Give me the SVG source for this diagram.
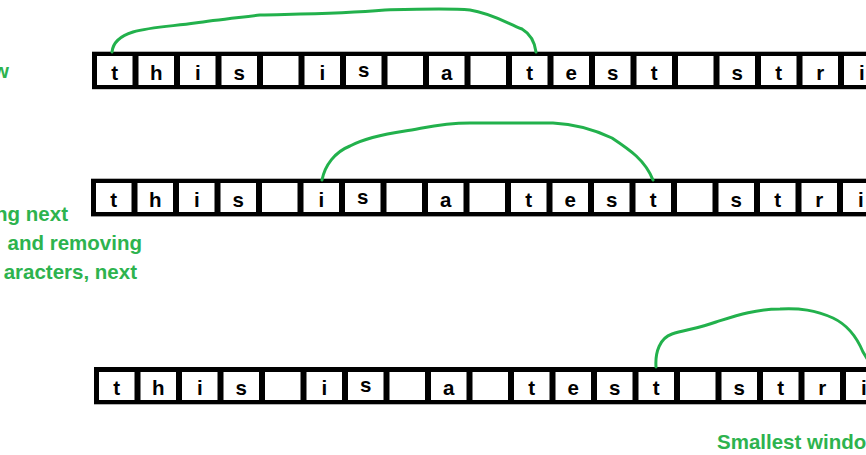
<svg xmlns="http://www.w3.org/2000/svg" width="866" height="455" viewBox="0 0 866 455">
<style>
.bar{fill:#000}
.cell{fill:#fff}
.ch{font-family:"Liberation Sans",Arial,sans-serif;font-size:20.5px;font-weight:bold;fill:#000;text-anchor:middle}
.note{font-family:"Liberation Sans",Arial,sans-serif;font-size:20.5px;font-weight:bold;fill:#2db34e}
.arc{fill:none;stroke:#22b14c;stroke-width:3;stroke-linecap:round;stroke-linejoin:round}
</style>
<rect width="866" height="455" fill="#fff"/>

<g id="row1" transform="translate(97,56)">
<rect class="bar" x="-5" y="-4.3" width="800" height="37.5"/>
<rect class="cell" x="0" y="0" width="35.5" height="29"/>
<rect class="cell" x="41.5" y="0" width="35.5" height="29"/>
<rect class="cell" x="83" y="0" width="35.5" height="29"/>
<rect class="cell" x="124.5" y="0" width="35.5" height="29"/>
<rect class="cell" x="166" y="0" width="35.5" height="29"/>
<rect class="cell" x="207.5" y="0" width="35.5" height="29"/>
<rect class="cell" x="249" y="0" width="35.5" height="29"/>
<rect class="cell" x="290.5" y="0" width="35.5" height="29"/>
<rect class="cell" x="332" y="0" width="35.5" height="29"/>
<rect class="cell" x="373.5" y="0" width="35.5" height="29"/>
<rect class="cell" x="415" y="0" width="35.5" height="29"/>
<rect class="cell" x="456.5" y="0" width="35.5" height="29"/>
<rect class="cell" x="498" y="0" width="35.5" height="29"/>
<rect class="cell" x="539.5" y="0" width="35.5" height="29"/>
<rect class="cell" x="581" y="0" width="35.5" height="29"/>
<rect class="cell" x="622.5" y="0" width="35.5" height="29"/>
<rect class="cell" x="664" y="0" width="35.5" height="29"/>
<rect class="cell" x="705.5" y="0" width="35.5" height="29"/>
<rect class="cell" x="747" y="0" width="35.5" height="29"/>
<text class="ch" x="17.75" y="24">t</text>
<text class="ch" x="59.25" y="24">h</text>
<text class="ch" x="100.75" y="24">i</text>
<text class="ch" x="142.25" y="24">s</text>
<text class="ch" x="225.25" y="24">i</text>
<text class="ch" x="266.75" y="21">s</text>
<text class="ch" x="349.75" y="24">a</text>
<text class="ch" x="432.75" y="24">t</text>
<text class="ch" x="474.25" y="24">e</text>
<text class="ch" x="515.75" y="24">s</text>
<text class="ch" x="557.25" y="24">t</text>
<text class="ch" x="640.25" y="24">s</text>
<text class="ch" x="681.75" y="24">t</text>
<text class="ch" x="723.25" y="24">r</text>
<text class="ch" x="764.75" y="24">i</text>
</g>

<g id="row2" transform="translate(96,183)">
<rect class="bar" x="-5" y="-4.3" width="800" height="37.7"/>
<rect class="cell" x="0" y="0" width="35.5" height="29"/>
<rect class="cell" x="41.5" y="0" width="35.5" height="29"/>
<rect class="cell" x="83" y="0" width="35.5" height="29"/>
<rect class="cell" x="124.5" y="0" width="35.5" height="29"/>
<rect class="cell" x="166" y="0" width="35.5" height="29"/>
<rect class="cell" x="207.5" y="0" width="35.5" height="29"/>
<rect class="cell" x="249" y="0" width="35.5" height="29"/>
<rect class="cell" x="290.5" y="0" width="35.5" height="29"/>
<rect class="cell" x="332" y="0" width="35.5" height="29"/>
<rect class="cell" x="373.5" y="0" width="35.5" height="29"/>
<rect class="cell" x="415" y="0" width="35.5" height="29"/>
<rect class="cell" x="456.5" y="0" width="35.5" height="29"/>
<rect class="cell" x="498" y="0" width="35.5" height="29"/>
<rect class="cell" x="539.5" y="0" width="35.5" height="29"/>
<rect class="cell" x="581" y="0" width="35.5" height="29"/>
<rect class="cell" x="622.5" y="0" width="35.5" height="29"/>
<rect class="cell" x="664" y="0" width="35.5" height="29"/>
<rect class="cell" x="705.5" y="0" width="35.5" height="29"/>
<rect class="cell" x="747" y="0" width="35.5" height="29"/>
<text class="ch" x="17.75" y="24">t</text>
<text class="ch" x="59.25" y="24">h</text>
<text class="ch" x="100.75" y="24">i</text>
<text class="ch" x="142.25" y="24">s</text>
<text class="ch" x="225.25" y="24">i</text>
<text class="ch" x="266.75" y="21">s</text>
<text class="ch" x="349.75" y="24">a</text>
<text class="ch" x="432.75" y="24">t</text>
<text class="ch" x="474.25" y="24">e</text>
<text class="ch" x="515.75" y="24">s</text>
<text class="ch" x="557.25" y="24">t</text>
<text class="ch" x="640.25" y="24">s</text>
<text class="ch" x="681.75" y="24">t</text>
<text class="ch" x="723.25" y="24">r</text>
<text class="ch" x="764.75" y="24">i</text>
</g>

<g id="row3" transform="translate(99,372)">
<rect class="bar" x="-5" y="-5" width="800" height="37.3"/>
<rect class="cell" x="0" y="0" width="35.5" height="28"/>
<rect class="cell" x="41.5" y="0" width="35.5" height="28"/>
<rect class="cell" x="83" y="0" width="35.5" height="28"/>
<rect class="cell" x="124.5" y="0" width="35.5" height="28"/>
<rect class="cell" x="166" y="0" width="35.5" height="28"/>
<rect class="cell" x="207.5" y="0" width="35.5" height="28"/>
<rect class="cell" x="249" y="0" width="35.5" height="28"/>
<rect class="cell" x="290.5" y="0" width="35.5" height="28"/>
<rect class="cell" x="332" y="0" width="35.5" height="28"/>
<rect class="cell" x="373.5" y="0" width="35.5" height="28"/>
<rect class="cell" x="415" y="0" width="35.5" height="28"/>
<rect class="cell" x="456.5" y="0" width="35.5" height="28"/>
<rect class="cell" x="498" y="0" width="35.5" height="28"/>
<rect class="cell" x="539.5" y="0" width="35.5" height="28"/>
<rect class="cell" x="581" y="0" width="35.5" height="28"/>
<rect class="cell" x="622.5" y="0" width="35.5" height="28"/>
<rect class="cell" x="664" y="0" width="35.5" height="28"/>
<rect class="cell" x="705.5" y="0" width="35.5" height="28"/>
<rect class="cell" x="747" y="0" width="35.5" height="28"/>
<text class="ch" x="17.75" y="23">t</text>
<text class="ch" x="59.25" y="23">h</text>
<text class="ch" x="100.75" y="23">i</text>
<text class="ch" x="142.25" y="23">s</text>
<text class="ch" x="225.25" y="23">i</text>
<text class="ch" x="266.75" y="20">s</text>
<text class="ch" x="349.75" y="23">a</text>
<text class="ch" x="432.75" y="23">t</text>
<text class="ch" x="474.25" y="23">e</text>
<text class="ch" x="515.75" y="23">s</text>
<text class="ch" x="557.25" y="23">t</text>
<text class="ch" x="640.25" y="23">s</text>
<text class="ch" x="681.75" y="23">t</text>
<text class="ch" x="723.25" y="23">r</text>
<text class="ch" x="764.75" y="23">i</text>
</g>

<g id="connectors">
<path class="arc" d="M112,52 C113,42 120,36 133,32 C150,27 175,26 195,23 C215,20 235,18 260,15 C300,14 340,14 385,10 C420,9 450,8 470,10 C490,13 505,22 522,29 C532,35 535,44 536,52"/>
<path class="arc" d="M322,180 C325,165 335,152 350,146 C365,138 385,134 405,131 C425,128 440,123 470,123 L553,123 C575,124 595,130 612,138 C630,150 645,160 653,180"/>
<path class="arc" d="M656,367 C655,352 660,338 672,334 C685,330 700,328 716,322 C735,316 755,309 780,309 C800,308 815,310 833,318 C850,326 858,340 863,352 L868,360"/>
</g>

<g id="notes">
<text class="note" x="9" y="78" text-anchor="end">w</text>
<text class="note" x="68" y="221" text-anchor="end">ng next</text>
<text class="note" x="142" y="250" text-anchor="end">and removing</text>
<text class="note" x="137" y="279" text-anchor="end">aracters, next</text>
<text class="note" x="717" y="449">Smallest windo</text>
</g>
</svg>
